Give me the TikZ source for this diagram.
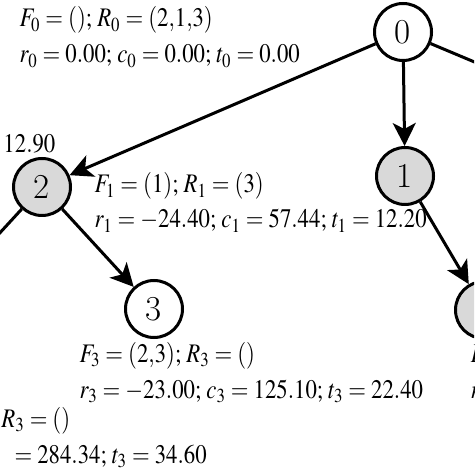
\documentclass[tikz,border=0pt]{standalone}
\usepackage{amsmath}
\usepackage{mathptmx}
\usepackage{tikz}
\usetikzlibrary{arrows.meta}
\newcommand{\narrow}[1]{\scalebox{0.85}[1]{#1}}

\begin{document}
\begin{tikzpicture}[x=0.5pt, y=-0.5pt, line width=1.5pt,
  state/.style={circle, draw, minimum size=28.5pt, inner sep=0pt, font=\fontsize{17.5}{19}\selectfont},
  visited/.style={state, fill=black!15},
  info/.style={anchor=base west, inner sep=0pt, font=\fontsize{13.4}{16}\selectfont},
  arc/.style={-{Stealth[length=11.5pt, width=11.5pt, inset=3pt]}}]
\useasboundingbox (0,0) rectangle (474,474);
\clip (0,0) rectangle (474,474);

\node[state]   (n0) at (403,32)  {0};
\node[visited] (n1) at (405,176) {1};
\node[visited] (n2) at (42,187)  {2};
\node[state]   (n3) at (154,309) {3};
\node[visited] (n4) at (484,310) {};
\coordinate (n0r) at (765,184);
\coordinate (n2l) at (-70,309);

\draw[arc] (n0) -- (n2);
\draw[arc] (n0) -- (n1);
\draw (n0) -- (n0r);
\draw[arc] (n1) -- (n4);
\draw[arc] (n2) -- (n3);
\draw (n2) -- (n2l);

\node[info] (f0) at (18,27)  {\narrow{$F_0 = ();\, R_0 = (2{,}1{,}3)$}};
\node[info] (r0) at (18,63)  {\narrow{$r_0 = 0.00;\, c_0 = 0.00;\, t_0 = 0.00$}};
\node[info] (t2) at (2,153)  {\narrow{$12.90$}};
\node[info] (f1) at (93,193) {\narrow{$F_1 = (1);\, R_1 = (3)$}};
\node[info] (r1) at (93,228) {\narrow{$r_1 = -24.40;\, c_1 = 57.44;\, t_1 = 12.20$}};
\node[info] (f3) at (78,362) {\narrow{$F_3 = (2{,}3);\, R_3 = ()$}};
\node[info] (r3) at (78,398) {\narrow{$r_3 = -23.00;\, c_3 = 125.10;\, t_3 = 22.40$}};
\node[info] (f5) at (0,427)  {\narrow{$R_3 = ()$}};
\node[info] (r5) at (8,463)  {\narrow{${}= 284.34;\, t_3 = 34.60$}};
\node[info] (f4) at (469,362) {\narrow{$F$}};
\node[info] (r4) at (469,398) {\narrow{$r$}};
\end{tikzpicture}
\end{document}
